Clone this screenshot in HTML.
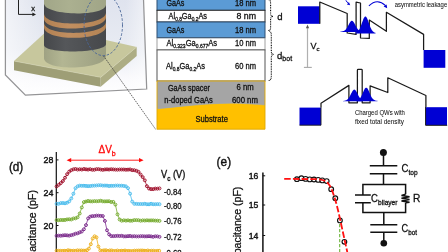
<!DOCTYPE html>
<html><head><meta charset="utf-8"><title>Figure</title>
<style>
html,body{margin:0;padding:0;background:#fff;}
body{width:448px;height:252px;overflow:hidden;position:relative;}
svg{position:absolute;left:0;top:0;display:block;font-family:"Liberation Sans",Arial,sans-serif;}
text{stroke:#111;stroke-width:0.28px;}
</style></head><body>
<svg width="448" height="252" viewBox="0 0 448 252">
<defs>
<linearGradient id="bg" x1="0" y1="0" x2="0" y2="1">
 <stop offset="0" stop-color="#dfe3ee"/><stop offset="0.55" stop-color="#e9ecf3"/><stop offset="0.85" stop-color="#fbfbfd"/><stop offset="1" stop-color="#ffffff"/>
</linearGradient>
<linearGradient id="bgh" x1="0" y1="0" x2="1" y2="0">
 <stop offset="0" stop-color="#ffffff" stop-opacity="0.55"/><stop offset="0.25" stop-color="#ffffff" stop-opacity="0"/><stop offset="0.85" stop-color="#ffffff" stop-opacity="0"/><stop offset="1" stop-color="#ffffff" stop-opacity="0.5"/>
</linearGradient>
<linearGradient id="dark" x1="0" y1="0" x2="1" y2="0">
 <stop offset="0" stop-color="#45474a"/><stop offset="0.35" stop-color="#55575a"/><stop offset="1" stop-color="#46484b"/>
</linearGradient>
<linearGradient id="lowg" x1="0" y1="0" x2="1" y2="0">
 <stop offset="0" stop-color="#9fa283"/><stop offset="0.3" stop-color="#b3b693"/><stop offset="1" stop-color="#9b9e80"/>
</linearGradient>
<linearGradient id="topg" x1="0" y1="0" x2="1" y2="0">
 <stop offset="0" stop-color="#a1a688"/><stop offset="0.4" stop-color="#abb090"/><stop offset="1" stop-color="#a0a587"/>
</linearGradient>
<linearGradient id="org" x1="0" y1="0" x2="1" y2="0">
 <stop offset="0" stop-color="#b08052"/><stop offset="0.4" stop-color="#c28f60"/><stop offset="1" stop-color="#b38354"/>
</linearGradient>
</defs>
<path d="M5.4,-1 L5.4,75 L25.4,95.2 L146.7,89 L143.5,-1 Z" fill="url(#bg)"/>
<path d="M5.4,-1 L5.4,75 L25.4,95.2 L146.7,89 L143.5,-1 Z" fill="url(#bgh)" stroke="#949496" stroke-width="1.25"/>
<path d="M14,61 L50.7,27.5 L136.7,47 L100.7,77.3 Z" fill="#c7c79d"/>
<path d="M14,61 L100.7,77.3 L100.7,86.7 L14,70.3 Z" fill="#9e9e76"/>
<path d="M100.7,77.3 L136.7,47 L136.7,56 L100.7,86.7 Z" fill="#adad84"/>
<path d="M14,61 L100.7,77.3 L136.7,47" fill="none" stroke="#d9d9b5" stroke-width="0.6"/>
<path d="M44.0,40 L44.0,58 C44,71.87 106,69.87 106,56 L106.0,40 Z" fill="url(#lowg)"/>
<path d="M44.0,-1 L44.0,45 C44,54.2 106,53.2 106,44 L106.0,-1 Z" fill="url(#dark)"/>
<path d="M44.0,13.6 C44,27.73 106,26.53 106,12.4 L106.0,17.0 C106,31.4 44,32.8 44,18.4 Z" fill="url(#org)"/>
<path d="M44.0,22.6 C44,37.13 106,36.13 106,21.6 L106.0,26.2 C106,41.13 44,41.93 44,27 Z" fill="url(#org)"/>
<path d="M44.0,-1 L44.0,3.3 C44,15.97 106,17.17 106,4.5 L106.0,-1 Z" fill="url(#topg)"/>
<ellipse cx="103.3" cy="25" rx="19.2" ry="30.6" fill="none" stroke="#4a6698" stroke-width="0.95" stroke-dasharray="2.5 1.7"/>
<path d="M103.6,56 L156,129.8" stroke="#3a3a3a" stroke-width="0.75" stroke-dasharray="1.6 0.9" fill="none"/>
<path d="M18.5,-1 V14.4 H33.5" stroke="#222" stroke-width="1" fill="none"/>
<path d="M36,14.4 L32.4,12.6 L32.4,16.2 Z" fill="#222"/>
<text x="31.2" y="11" font-size="7.5" fill="#222">x</text>
<rect x="157.0" y="-3" width="108" height="13.3" fill="#5b9bd5" stroke="#2d4f73" stroke-width="1"/>
<rect x="157.0" y="10.3" width="108" height="11.7" fill="#ffffff" stroke="#2a2a2a" stroke-width="1"/>
<rect x="157.0" y="22" width="108" height="15.7" fill="#5b9bd5" stroke="#2d4f73" stroke-width="1"/>
<rect x="157.0" y="37.7" width="108" height="12.2" fill="#ffffff" stroke="#a0a0a0" stroke-width="1"/>
<rect x="157.0" y="49.9" width="108" height="31.1" fill="#ffffff" stroke="#555" stroke-width="1"/>
<path d="M157.0,37.7 H265.0" stroke="#2d4f73" stroke-width="1"/>
<path d="M157.0,81 H265.0 V129 H157.0 Z" fill="#a5a5a5"/>
<path d="M157.0,108.8 C185,106 215,102.5 238,103.3 C252,103.8 260,104.6 265.0,105 V129.2 H157.0 Z" fill="#ffc000"/>
<path d="M157.0,108.8 C185,106 215,102.5 238,103.3 C252,103.8 260,104.6 265.0,105" fill="none" stroke="#8fa6d0" stroke-width="0.5"/>
<path d="M157.0,81 H265.0 V129.2 H157.0 Z" fill="none" stroke="#e0a800" stroke-width="0.9"/>
<g fill="#111">
<text x="166.4" y="5.8" font-size="8.2" textLength="17.9" lengthAdjust="spacingAndGlyphs">GaAs</text>
<text x="235" y="5.8" font-size="8.2" textLength="21" lengthAdjust="spacingAndGlyphs">18 nm</text>
<text x="168.6" y="19.3" font-size="8.2" textLength="38.4" lengthAdjust="spacingAndGlyphs">Al<tspan font-size="5.4" dy="1.8">0.8</tspan><tspan dy="-1.8">Ga</tspan><tspan font-size="5.4" dy="1.8">0.2</tspan><tspan dy="-1.8">As</tspan></text>
<text x="236.4" y="19.3" font-size="8.2" textLength="19.6" lengthAdjust="spacingAndGlyphs">8 nm</text>
<text x="166.4" y="33.1" font-size="8.2" textLength="17.9" lengthAdjust="spacingAndGlyphs">GaAs</text>
<text x="235" y="33.1" font-size="8.2" textLength="21" lengthAdjust="spacingAndGlyphs">18 nm</text>
<text x="166.4" y="45.7" font-size="8.2" textLength="50.7" lengthAdjust="spacingAndGlyphs">Al<tspan font-size="5.4" dy="1.8">0.323</tspan><tspan dy="-1.8">Ga</tspan><tspan font-size="5.4" dy="1.8">0.677</tspan><tspan dy="-1.8">As</tspan></text>
<text x="235" y="45.7" font-size="8.2" textLength="21" lengthAdjust="spacingAndGlyphs">10 nm</text>
<text x="166" y="69.3" font-size="8.2" textLength="39" lengthAdjust="spacingAndGlyphs">Al<tspan font-size="5.4" dy="1.8">0.8</tspan><tspan dy="-1.8">Ga</tspan><tspan font-size="5.4" dy="1.8">0.2</tspan><tspan dy="-1.8">As</tspan></text>
<text x="235" y="69.3" font-size="8.2" textLength="21" lengthAdjust="spacingAndGlyphs">60 nm</text>
<text x="167.9" y="90.6" font-size="8.2" textLength="42" lengthAdjust="spacingAndGlyphs">GaAs spacer</text>
<text x="236.5" y="90.4" font-size="8.2" textLength="17.2" lengthAdjust="spacingAndGlyphs">6 nm</text>
<text x="164.3" y="102.9" font-size="8.2" textLength="48.6" lengthAdjust="spacingAndGlyphs">n-doped GaAs</text>
<text x="232" y="102.8" font-size="8.2" textLength="25.9" lengthAdjust="spacingAndGlyphs">600 nm</text>
<text x="195.4" y="121.7" font-size="8.2" textLength="32.5" lengthAdjust="spacingAndGlyphs">Substrate</text>
</g>
<g fill="none" stroke="#000" stroke-width="1.05" stroke-dasharray="0.9 0.75">
<path d="M268.3,-0.5 Q270.6,0 270.6,3 L270.6,13 Q270.6,16.4 273,16.4 Q270.6,16.4 270.6,20 L270.6,27.5 Q270.6,30.4 268.3,30.6"/>
<path d="M269.3,31 Q271.3,31.5 271.3,35 L271.3,51 Q271.3,54.4 273.6,54.4 Q271.3,54.4 271.3,58 L271.3,76.5 Q271.3,80.3 268.3,80.6"/>
</g>
<text x="277.3" y="19.7" font-size="9.6" fill="#111">d</text>
<text x="277" y="58.7" font-size="9.6" fill="#111">d<tspan font-size="7" dy="1.9">bot</tspan></text>
<rect x="298" y="6.3" width="21.8" height="17.5" fill="#0000d4"/>
<rect x="423.6" y="50" width="21.7" height="17.8" fill="#0000d4"/>
<rect x="299.5" y="107.6" width="21.5" height="17.6" fill="#0000d4"/>
<path d="M299.5,125.2 H321 V107.4" fill="none" stroke="#1a1a1a" stroke-width="0.9"/>
<rect x="425.5" y="107.2" width="21.5" height="18" fill="#0000d4"/>
<path d="M425.6,107 V125.3 H447.2" fill="none" stroke="#1a1a1a" stroke-width="1"/>
<g fill="none" stroke="#1a1a1a" stroke-width="1.25" stroke-linejoin="round">
<path d="M319.8,23.8 L319.8,2 L347.2,13.5 L347.2,33 L356.1,34.4 L356.1,2.2 L360.5,3 L360.5,38 L369.3,38.4 L369.3,20 L386.4,31.3 L386.4,12.3 L423.6,34.4 L423.6,50"/>
<path d="M321,107.6 L321,103.3 L348.9,85.4 L348.9,102.8 L357.4,102.8 L357.4,70.2 Q357.4,69.4 358.2,69.4 L361.4,69.4 Q362.2,69.4 362.2,70.2 L362.2,102.8 L370.1,102.8 L370.1,85.8 L387.8,92.5 L387.8,77.8 L425.9,95.5 L425.9,107"/>
</g>
<path d="M340.5,31.9 L340.5,31.55 340.96,31.51 341.43,31.46 341.89,31.4 342.35,31.33 342.81,31.22 343.27,31.09 343.74,30.92 344.2,30.7 344.66,30.42 345.12,30.08 345.59,29.65 346.05,29.14 346.51,28.54 346.98,27.85 347.44,27.08 347.9,26.25 348.36,25.37 348.82,24.48 349.29,23.61 349.75,22.8 350.21,22.08 350.68,21.5 351.14,21.07 351.6,20.84 352.06,20.81 352.52,20.99 352.99,21.35 353.45,21.89 353.91,22.57 354.38,23.36 354.84,24.22 355.3,25.11 355.76,25.99 356.23,26.84 356.69,27.63 357.15,28.34 357.61,28.97 358.07,29.51 358.54,29.96 359,30.33 L359,31.9 Z" fill="#0000d4"/>
<path d="M355,33.6 L355,32.85 355.51,32.73 356.02,32.56 356.54,32.34 357.05,32.05 357.56,31.68 358.07,31.19 358.59,30.57 359.1,29.81 359.61,28.9 360.12,27.83 360.64,26.6 361.15,25.25 361.66,23.81 362.18,22.34 362.69,20.89 363.2,19.54 363.71,18.36 364.23,17.43 364.74,16.8 365.25,16.52 365.76,16.59 366.27,17.02 366.79,17.79 367.3,18.83 367.81,20.08 368.32,21.48 368.84,22.95 369.35,24.42 369.86,25.83 370.38,27.13 370.89,28.29 371.4,29.3 371.91,30.15 372.43,30.85 372.94,31.41 373.45,31.84 373.96,32.18 374.48,32.44 374.99,32.64 375.5,32.78 L375.5,33.6 Z" fill="#0000d4"/>
<path d="M343,101.3 L343,100.92 343.49,100.88 343.98,100.82 344.46,100.75 344.95,100.65 345.44,100.52 345.93,100.36 346.41,100.14 346.9,99.85 347.39,99.49 347.88,99.05 348.36,98.5 348.85,97.85 349.34,97.09 349.82,96.25 350.31,95.32 350.8,94.35 351.29,93.36 351.77,92.4 352.26,91.51 352.75,90.75 353.24,90.16 353.73,89.77 354.21,89.6 354.7,89.68 355.19,89.99 355.68,90.52 356.16,91.22 356.65,92.07 357.14,93.01 357.62,93.99 358.11,94.98 358.6,95.92 359.09,96.8 359.57,97.59 360.06,98.28 360.55,98.86 361.04,99.34 361.52,99.74 362.01,100.04 362.5,100.28 L362.5,101.3 Z" fill="#0000d4"/>
<path d="M356.5,101.3 L356.5,100.62 357.02,100.49 357.55,100.31 358.07,100.07 358.6,99.75 359.12,99.34 359.65,98.81 360.18,98.14 360.7,97.34 361.23,96.4 361.75,95.33 362.27,94.16 362.8,92.92 363.32,91.68 363.85,90.49 364.38,89.43 364.9,88.56 365.43,87.95 365.95,87.64 366.48,87.64 367,87.97 367.52,88.6 368.05,89.47 368.57,90.54 369.1,91.73 369.62,92.98 370.15,94.21 370.68,95.38 371.2,96.45 371.73,97.38 372.25,98.18 372.77,98.83 373.3,99.36 373.82,99.77 374.35,100.09 374.88,100.32 375.4,100.5 375.93,100.63 376.45,100.73 376.98,100.8 377.5,100.86 L377.5,101.3 Z" fill="#0000d4"/>
<path d="M307.5,67.4 V27" stroke="#b0b0b0" stroke-width="1.2" fill="none"/>
<path d="M307.5,24.6 L305.9,28.2 L309.1,28.2 Z" fill="#555"/>
<path d="M303.9,67.4 H311.8" stroke="#a8a8a8" stroke-width="1.1"/>
<text x="310.6" y="48.9" font-size="9" fill="#111">V<tspan font-size="6" dy="1.8">c</tspan></text>
<path d="M345.9,0.3 Q347.2,2.6 348.6,3.6" fill="none" stroke="#0000d4" stroke-width="1"/>
<path d="M350.2,5.2 L346.9,4.4 L348.9,2.1 Z" fill="#0000d4"/>
<path d="M368.9,5.8 Q377.2,-2.2 385.6,5.6" fill="none" stroke="#0000d4" stroke-width="1.1"/>
<path d="M387.2,8.3 L383.6,6.6 L386.6,4.4 Z" fill="#0000d4"/>
<text x="394.7" y="7.2" font-size="7.3" textLength="52.5" lengthAdjust="spacingAndGlyphs" fill="#111" style="stroke-width:0.05px">asymmetric leakage</text>
<text x="354.9" y="115" font-size="7.2" textLength="50" lengthAdjust="spacingAndGlyphs" fill="#111" style="stroke-width:0.05px">Charged QWs with</text>
<text x="354.9" y="123.6" font-size="7.2" textLength="49" lengthAdjust="spacingAndGlyphs" fill="#111" style="stroke-width:0.05px">fixed total density</text>
<text x="8.9" y="170.8" font-size="13" textLength="14.4" lengthAdjust="spacingAndGlyphs" fill="#111" style="stroke-width:0.4px">(d)</text>
<path d="M56.3,152 V253" stroke="#111" stroke-width="1.2"/>
<path d="M56.3,159.9 H58.5" stroke="#111" stroke-width="1"/>
<text x="53.4" y="163" font-size="8.8" text-anchor="end" fill="#111" style="stroke-width:0.4px">28</text>
<path d="M56.3,192.7 H58.5" stroke="#111" stroke-width="1"/>
<text x="53.4" y="195.8" font-size="8.8" text-anchor="end" fill="#111" style="stroke-width:0.4px">24</text>
<path d="M56.3,225.5 H58.5" stroke="#111" stroke-width="1"/>
<text x="53.4" y="228.6" font-size="8.8" text-anchor="end" fill="#111" style="stroke-width:0.4px">20</text>
<text transform="translate(35.6,190) rotate(-90)" x="0" y="0" font-size="10.6" text-anchor="end" fill="#111">Capacitance (pF)</text>
<text x="98.5" y="152.9" font-size="10" fill="#ff0a0a" style="stroke:#ff0a0a">ΔV<tspan font-size="7" dy="2.6">b</tspan></text>
<path d="M69.5,160.2 H141" stroke="#ff0a0a" stroke-width="0.9"/>
<path d="M66.6,160.2 L71.2,158.1 L71.2,162.3 Z" fill="#ff0a0a"/>
<path d="M143.6,160.2 L139,158.1 L139,162.3 Z" fill="#ff0a0a"/>
<path d="M56.6,186.44 L58.7,184.84 L60.8,183.1 L62.9,181 L65,177.75 L67.1,174.19 L69.2,171.61 L71.3,170.17 L73.4,169.31 L75.5,168.97 L77.6,169.56 L79.7,169.29 L81.8,169.54 L83.9,169.02 L86,169.35 L88.1,169.56 L90.2,169.23 L92.3,169.75 L94.4,169.74 L96.5,169.14 L98.6,169.16 L100.7,169.54 L102.8,169.83 L104.9,169.46 L107,169.37 L109.1,169.53 L111.2,169.28 L113.3,169.43 L115.4,169.61 L117.5,169.67 L119.6,169.5 L121.7,169.52 L123.8,169.53 L125.9,169.72 L128,169.62 L130.1,169.46 L132.2,170.16 L134.3,170.21 L136.4,170.8 L138.5,171.82 L140.6,174.54 L142.7,177.1 L144.8,180.32 L146.9,186.17 L149,188.56 L151.1,189.07 L153.2,189.14 L155.3,188.58 L157.4,188.69 L159.5,188.4" fill="none" stroke="#a2142f" stroke-width="0.8"/><g fill="none" stroke="#a2142f" stroke-width="1.0"><circle cx="56.6" cy="186.44" r="1.45"/><circle cx="58.7" cy="184.84" r="1.45"/><circle cx="60.8" cy="183.1" r="1.45"/><circle cx="62.9" cy="181" r="1.45"/><circle cx="65" cy="177.75" r="1.45"/><circle cx="67.1" cy="174.19" r="1.45"/><circle cx="69.2" cy="171.61" r="1.45"/><circle cx="71.3" cy="170.17" r="1.45"/><circle cx="73.4" cy="169.31" r="1.45"/><circle cx="75.5" cy="168.97" r="1.45"/><circle cx="77.6" cy="169.56" r="1.45"/><circle cx="79.7" cy="169.29" r="1.45"/><circle cx="81.8" cy="169.54" r="1.45"/><circle cx="83.9" cy="169.02" r="1.45"/><circle cx="86" cy="169.35" r="1.45"/><circle cx="88.1" cy="169.56" r="1.45"/><circle cx="90.2" cy="169.23" r="1.45"/><circle cx="92.3" cy="169.75" r="1.45"/><circle cx="94.4" cy="169.74" r="1.45"/><circle cx="96.5" cy="169.14" r="1.45"/><circle cx="98.6" cy="169.16" r="1.45"/><circle cx="100.7" cy="169.54" r="1.45"/><circle cx="102.8" cy="169.83" r="1.45"/><circle cx="104.9" cy="169.46" r="1.45"/><circle cx="107" cy="169.37" r="1.45"/><circle cx="109.1" cy="169.53" r="1.45"/><circle cx="111.2" cy="169.28" r="1.45"/><circle cx="113.3" cy="169.43" r="1.45"/><circle cx="115.4" cy="169.61" r="1.45"/><circle cx="117.5" cy="169.67" r="1.45"/><circle cx="119.6" cy="169.5" r="1.45"/><circle cx="121.7" cy="169.52" r="1.45"/><circle cx="123.8" cy="169.53" r="1.45"/><circle cx="125.9" cy="169.72" r="1.45"/><circle cx="128" cy="169.62" r="1.45"/><circle cx="130.1" cy="169.46" r="1.45"/><circle cx="132.2" cy="170.16" r="1.45"/><circle cx="134.3" cy="170.21" r="1.45"/><circle cx="136.4" cy="170.8" r="1.45"/><circle cx="138.5" cy="171.82" r="1.45"/><circle cx="140.6" cy="174.54" r="1.45"/><circle cx="142.7" cy="177.1" r="1.45"/><circle cx="144.8" cy="180.32" r="1.45"/><circle cx="146.9" cy="186.17" r="1.45"/><circle cx="149" cy="188.56" r="1.45"/><circle cx="151.1" cy="189.07" r="1.45"/><circle cx="153.2" cy="189.14" r="1.45"/><circle cx="155.3" cy="188.58" r="1.45"/><circle cx="157.4" cy="188.69" r="1.45"/><circle cx="159.5" cy="188.4" r="1.45"/></g>
<path d="M56.6,203.82 L58.7,203.76 L60.8,203.08 L62.9,203.04 L65,203.3 L67.1,202.71 L69.2,201.36 L71.3,198.42 L73.4,193.74 L75.5,188.17 L77.6,186.34 L79.7,185.64 L81.8,185.81 L83.9,185.75 L86,185.95 L88.1,186.11 L90.2,186.05 L92.3,185.74 L94.4,185.64 L96.5,185.49 L98.6,185.29 L100.7,185.28 L102.8,185.62 L104.9,185.55 L107,185.62 L109.1,186.01 L111.2,185.79 L113.3,185.84 L115.4,185.65 L117.5,185.53 L119.6,185.77 L121.7,185.67 L123.8,185.97 L125.9,186.34 L128,188.16 L130.1,193.68 L132.2,201.61 L134.3,203.82 L136.4,203.85 L138.5,204.04 L140.6,204 L142.7,204.06 L144.8,203.79 L146.9,204.27 L149,204.3 L151.1,203.78 L153.2,204.24 L155.3,204.25 L157.4,204.11 L159.5,204.2" fill="none" stroke="#4dbeee" stroke-width="0.8"/><g fill="none" stroke="#4dbeee" stroke-width="1.0"><circle cx="56.6" cy="203.82" r="1.45"/><circle cx="58.7" cy="203.76" r="1.45"/><circle cx="60.8" cy="203.08" r="1.45"/><circle cx="62.9" cy="203.04" r="1.45"/><circle cx="65" cy="203.3" r="1.45"/><circle cx="67.1" cy="202.71" r="1.45"/><circle cx="69.2" cy="201.36" r="1.45"/><circle cx="71.3" cy="198.42" r="1.45"/><circle cx="73.4" cy="193.74" r="1.45"/><circle cx="75.5" cy="188.17" r="1.45"/><circle cx="77.6" cy="186.34" r="1.45"/><circle cx="79.7" cy="185.64" r="1.45"/><circle cx="81.8" cy="185.81" r="1.45"/><circle cx="83.9" cy="185.75" r="1.45"/><circle cx="86" cy="185.95" r="1.45"/><circle cx="88.1" cy="186.11" r="1.45"/><circle cx="90.2" cy="186.05" r="1.45"/><circle cx="92.3" cy="185.74" r="1.45"/><circle cx="94.4" cy="185.64" r="1.45"/><circle cx="96.5" cy="185.49" r="1.45"/><circle cx="98.6" cy="185.29" r="1.45"/><circle cx="100.7" cy="185.28" r="1.45"/><circle cx="102.8" cy="185.62" r="1.45"/><circle cx="104.9" cy="185.55" r="1.45"/><circle cx="107" cy="185.62" r="1.45"/><circle cx="109.1" cy="186.01" r="1.45"/><circle cx="111.2" cy="185.79" r="1.45"/><circle cx="113.3" cy="185.84" r="1.45"/><circle cx="115.4" cy="185.65" r="1.45"/><circle cx="117.5" cy="185.53" r="1.45"/><circle cx="119.6" cy="185.77" r="1.45"/><circle cx="121.7" cy="185.67" r="1.45"/><circle cx="123.8" cy="185.97" r="1.45"/><circle cx="125.9" cy="186.34" r="1.45"/><circle cx="128" cy="188.16" r="1.45"/><circle cx="130.1" cy="193.68" r="1.45"/><circle cx="132.2" cy="201.61" r="1.45"/><circle cx="134.3" cy="203.82" r="1.45"/><circle cx="136.4" cy="203.85" r="1.45"/><circle cx="138.5" cy="204.04" r="1.45"/><circle cx="140.6" cy="204" r="1.45"/><circle cx="142.7" cy="204.06" r="1.45"/><circle cx="144.8" cy="203.79" r="1.45"/><circle cx="146.9" cy="204.27" r="1.45"/><circle cx="149" cy="204.3" r="1.45"/><circle cx="151.1" cy="203.78" r="1.45"/><circle cx="153.2" cy="204.24" r="1.45"/><circle cx="155.3" cy="204.25" r="1.45"/><circle cx="157.4" cy="204.11" r="1.45"/><circle cx="159.5" cy="204.2" r="1.45"/></g>
<path d="M56.6,220.12 L58.7,220.22 L60.8,219.99 L62.9,220.04 L65,219.95 L67.1,219.45 L69.2,219.3 L71.3,219.48 L73.4,218.49 L75.5,218.35 L77.6,217.29 L79.7,213.53 L81.8,207.44 L83.9,202.12 L86,201.53 L88.1,201.02 L90.2,201.31 L92.3,201.43 L94.4,201.14 L96.5,201.25 L98.6,201.15 L100.7,200.74 L102.8,201.37 L104.9,201.4 L107,201.34 L109.1,201.29 L111.2,202.02 L113.3,201.89 L115.4,204.6 L117.5,214.37 L119.6,219.5 L121.7,220.69 L123.8,220.33 L125.9,220.61 L128,220.36 L130.1,220.7 L132.2,220.67 L134.3,220.12 L136.4,220.15 L138.5,220.2 L140.6,220.73 L142.7,220.38 L144.8,220.54 L146.9,220.33 L149,220.49 L151.1,220.43 L153.2,220.43 L155.3,220.61 L157.4,220.63 L159.5,220.87" fill="none" stroke="#77ac30" stroke-width="0.8"/><g fill="none" stroke="#77ac30" stroke-width="1.0"><circle cx="56.6" cy="220.12" r="1.45"/><circle cx="58.7" cy="220.22" r="1.45"/><circle cx="60.8" cy="219.99" r="1.45"/><circle cx="62.9" cy="220.04" r="1.45"/><circle cx="65" cy="219.95" r="1.45"/><circle cx="67.1" cy="219.45" r="1.45"/><circle cx="69.2" cy="219.3" r="1.45"/><circle cx="71.3" cy="219.48" r="1.45"/><circle cx="73.4" cy="218.49" r="1.45"/><circle cx="75.5" cy="218.35" r="1.45"/><circle cx="77.6" cy="217.29" r="1.45"/><circle cx="79.7" cy="213.53" r="1.45"/><circle cx="81.8" cy="207.44" r="1.45"/><circle cx="83.9" cy="202.12" r="1.45"/><circle cx="86" cy="201.53" r="1.45"/><circle cx="88.1" cy="201.02" r="1.45"/><circle cx="90.2" cy="201.31" r="1.45"/><circle cx="92.3" cy="201.43" r="1.45"/><circle cx="94.4" cy="201.14" r="1.45"/><circle cx="96.5" cy="201.25" r="1.45"/><circle cx="98.6" cy="201.15" r="1.45"/><circle cx="100.7" cy="200.74" r="1.45"/><circle cx="102.8" cy="201.37" r="1.45"/><circle cx="104.9" cy="201.4" r="1.45"/><circle cx="107" cy="201.34" r="1.45"/><circle cx="109.1" cy="201.29" r="1.45"/><circle cx="111.2" cy="202.02" r="1.45"/><circle cx="113.3" cy="201.89" r="1.45"/><circle cx="115.4" cy="204.6" r="1.45"/><circle cx="117.5" cy="214.37" r="1.45"/><circle cx="119.6" cy="219.5" r="1.45"/><circle cx="121.7" cy="220.69" r="1.45"/><circle cx="123.8" cy="220.33" r="1.45"/><circle cx="125.9" cy="220.61" r="1.45"/><circle cx="128" cy="220.36" r="1.45"/><circle cx="130.1" cy="220.7" r="1.45"/><circle cx="132.2" cy="220.67" r="1.45"/><circle cx="134.3" cy="220.12" r="1.45"/><circle cx="136.4" cy="220.15" r="1.45"/><circle cx="138.5" cy="220.2" r="1.45"/><circle cx="140.6" cy="220.73" r="1.45"/><circle cx="142.7" cy="220.38" r="1.45"/><circle cx="144.8" cy="220.54" r="1.45"/><circle cx="146.9" cy="220.33" r="1.45"/><circle cx="149" cy="220.49" r="1.45"/><circle cx="151.1" cy="220.43" r="1.45"/><circle cx="153.2" cy="220.43" r="1.45"/><circle cx="155.3" cy="220.61" r="1.45"/><circle cx="157.4" cy="220.63" r="1.45"/><circle cx="159.5" cy="220.87" r="1.45"/></g>
<path d="M56.6,235.82 L58.7,235.61 L60.8,235.71 L62.9,235.43 L65,235.26 L67.1,235.38 L69.2,235.63 L71.3,235.17 L73.4,234.6 L75.5,233.67 L77.6,233.32 L79.7,232.37 L81.8,231.53 L83.9,229.25 L86,225.1 L88.1,218.41 L90.2,216.64 L92.3,216.1 L94.4,216.07 L96.5,215.62 L98.6,215.68 L100.7,215.91 L102.8,216.04 L104.9,220.92 L107,230.27 L109.1,234.36 L111.2,236.08 L113.3,236.14 L115.4,236.04 L117.5,235.82 L119.6,236.05 L121.7,235.79 L123.8,236.4 L125.9,236.36 L128,236.15 L130.1,235.99 L132.2,236.43 L134.3,236.21 L136.4,236.44 L138.5,236.43 L140.6,236.22 L142.7,236.22 L144.8,236.41 L146.9,236.35 L149,236.23 L151.1,236.39 L153.2,236.81 L155.3,236.33 L157.4,236.39 L159.5,236.86" fill="none" stroke="#7e2f8e" stroke-width="0.8"/><g fill="none" stroke="#7e2f8e" stroke-width="1.0"><circle cx="56.6" cy="235.82" r="1.45"/><circle cx="58.7" cy="235.61" r="1.45"/><circle cx="60.8" cy="235.71" r="1.45"/><circle cx="62.9" cy="235.43" r="1.45"/><circle cx="65" cy="235.26" r="1.45"/><circle cx="67.1" cy="235.38" r="1.45"/><circle cx="69.2" cy="235.63" r="1.45"/><circle cx="71.3" cy="235.17" r="1.45"/><circle cx="73.4" cy="234.6" r="1.45"/><circle cx="75.5" cy="233.67" r="1.45"/><circle cx="77.6" cy="233.32" r="1.45"/><circle cx="79.7" cy="232.37" r="1.45"/><circle cx="81.8" cy="231.53" r="1.45"/><circle cx="83.9" cy="229.25" r="1.45"/><circle cx="86" cy="225.1" r="1.45"/><circle cx="88.1" cy="218.41" r="1.45"/><circle cx="90.2" cy="216.64" r="1.45"/><circle cx="92.3" cy="216.1" r="1.45"/><circle cx="94.4" cy="216.07" r="1.45"/><circle cx="96.5" cy="215.62" r="1.45"/><circle cx="98.6" cy="215.68" r="1.45"/><circle cx="100.7" cy="215.91" r="1.45"/><circle cx="102.8" cy="216.04" r="1.45"/><circle cx="104.9" cy="220.92" r="1.45"/><circle cx="107" cy="230.27" r="1.45"/><circle cx="109.1" cy="234.36" r="1.45"/><circle cx="111.2" cy="236.08" r="1.45"/><circle cx="113.3" cy="236.14" r="1.45"/><circle cx="115.4" cy="236.04" r="1.45"/><circle cx="117.5" cy="235.82" r="1.45"/><circle cx="119.6" cy="236.05" r="1.45"/><circle cx="121.7" cy="235.79" r="1.45"/><circle cx="123.8" cy="236.4" r="1.45"/><circle cx="125.9" cy="236.36" r="1.45"/><circle cx="128" cy="236.15" r="1.45"/><circle cx="130.1" cy="235.99" r="1.45"/><circle cx="132.2" cy="236.43" r="1.45"/><circle cx="134.3" cy="236.21" r="1.45"/><circle cx="136.4" cy="236.44" r="1.45"/><circle cx="138.5" cy="236.43" r="1.45"/><circle cx="140.6" cy="236.22" r="1.45"/><circle cx="142.7" cy="236.22" r="1.45"/><circle cx="144.8" cy="236.41" r="1.45"/><circle cx="146.9" cy="236.35" r="1.45"/><circle cx="149" cy="236.23" r="1.45"/><circle cx="151.1" cy="236.39" r="1.45"/><circle cx="153.2" cy="236.81" r="1.45"/><circle cx="155.3" cy="236.33" r="1.45"/><circle cx="157.4" cy="236.39" r="1.45"/><circle cx="159.5" cy="236.86" r="1.45"/></g>
<path d="M56.6,250.69 L58.5,250.77 L60.4,250.81 L62.3,250.91 L64.2,250.77 L66.1,250.9 L68,250.27 L69.9,250.58 L71.8,250.91 L73.7,250.7 L75.6,250.88 L77.5,250.33 L79.4,250.58 L81.3,250.42 L83.2,250.63 L85.1,250.65 L87,250.26 L88.9,248.6 L90.8,244.22 L92.7,238.51 L94.6,236.28 L96.5,237.36 L98.4,246.59 L100.3,250.35 L102.2,250.7 L104.1,250.36 L106,250.28 L107.9,250.9 L109.8,250.45 L111.7,250.46 L113.6,251.01 L115.5,250.94 L117.4,250.54 L119.3,251.02 L121.2,250.73 L123.1,250.84 L125,250.52 L126.9,251.04 L128.8,250.88 L130.7,251.08 L132.6,251.04 L134.5,250.63 L136.4,250.68 L138.3,250.56 L140.2,250.55 L142.1,250.51 L144,250.68 L145.9,250.9 L147.8,250.49 L149.7,250.97 L151.6,250.74 L153.5,250.73 L155.4,251.1 L157.3,250.87 L159.2,250.77" fill="none" stroke="#edb120" stroke-width="0.8"/><g fill="none" stroke="#edb120" stroke-width="1.0"><circle cx="56.6" cy="250.69" r="1.45"/><circle cx="58.5" cy="250.77" r="1.45"/><circle cx="60.4" cy="250.81" r="1.45"/><circle cx="62.3" cy="250.91" r="1.45"/><circle cx="64.2" cy="250.77" r="1.45"/><circle cx="66.1" cy="250.9" r="1.45"/><circle cx="68" cy="250.27" r="1.45"/><circle cx="69.9" cy="250.58" r="1.45"/><circle cx="71.8" cy="250.91" r="1.45"/><circle cx="73.7" cy="250.7" r="1.45"/><circle cx="75.6" cy="250.88" r="1.45"/><circle cx="77.5" cy="250.33" r="1.45"/><circle cx="79.4" cy="250.58" r="1.45"/><circle cx="81.3" cy="250.42" r="1.45"/><circle cx="83.2" cy="250.63" r="1.45"/><circle cx="85.1" cy="250.65" r="1.45"/><circle cx="87" cy="250.26" r="1.45"/><circle cx="88.9" cy="248.6" r="1.45"/><circle cx="90.8" cy="244.22" r="1.45"/><circle cx="92.7" cy="238.51" r="1.45"/><circle cx="94.6" cy="236.28" r="1.45"/><circle cx="96.5" cy="237.36" r="1.45"/><circle cx="98.4" cy="246.59" r="1.45"/><circle cx="100.3" cy="250.35" r="1.45"/><circle cx="102.2" cy="250.7" r="1.45"/><circle cx="104.1" cy="250.36" r="1.45"/><circle cx="106" cy="250.28" r="1.45"/><circle cx="107.9" cy="250.9" r="1.45"/><circle cx="109.8" cy="250.45" r="1.45"/><circle cx="111.7" cy="250.46" r="1.45"/><circle cx="113.6" cy="251.01" r="1.45"/><circle cx="115.5" cy="250.94" r="1.45"/><circle cx="117.4" cy="250.54" r="1.45"/><circle cx="119.3" cy="251.02" r="1.45"/><circle cx="121.2" cy="250.73" r="1.45"/><circle cx="123.1" cy="250.84" r="1.45"/><circle cx="125" cy="250.52" r="1.45"/><circle cx="126.9" cy="251.04" r="1.45"/><circle cx="128.8" cy="250.88" r="1.45"/><circle cx="130.7" cy="251.08" r="1.45"/><circle cx="132.6" cy="251.04" r="1.45"/><circle cx="134.5" cy="250.63" r="1.45"/><circle cx="136.4" cy="250.68" r="1.45"/><circle cx="138.3" cy="250.56" r="1.45"/><circle cx="140.2" cy="250.55" r="1.45"/><circle cx="142.1" cy="250.51" r="1.45"/><circle cx="144" cy="250.68" r="1.45"/><circle cx="145.9" cy="250.9" r="1.45"/><circle cx="147.8" cy="250.49" r="1.45"/><circle cx="149.7" cy="250.97" r="1.45"/><circle cx="151.6" cy="250.74" r="1.45"/><circle cx="153.5" cy="250.73" r="1.45"/><circle cx="155.4" cy="251.1" r="1.45"/><circle cx="157.3" cy="250.87" r="1.45"/><circle cx="159.2" cy="250.77" r="1.45"/></g>
<text x="161" y="178.4" font-size="10.6" textLength="24.3" lengthAdjust="spacingAndGlyphs" fill="#111" style="stroke-width:0.35px">V<tspan font-size="7.4" dy="2.2">c</tspan><tspan dy="-2.2"> (V)</tspan></text>
<text x="163.9" y="194.7" font-size="8.6" textLength="17.8" lengthAdjust="spacingAndGlyphs" fill="#111">-0.84</text>
<text x="163.9" y="208.8" font-size="8.6" textLength="17.8" lengthAdjust="spacingAndGlyphs" fill="#111">-0.80</text>
<text x="163.9" y="223.8" font-size="8.6" textLength="17.8" lengthAdjust="spacingAndGlyphs" fill="#111">-0.76</text>
<text x="163.9" y="240" font-size="8.6" textLength="17.8" lengthAdjust="spacingAndGlyphs" fill="#111">-0.72</text>
<text x="163.9" y="255.5" font-size="8.6" textLength="17.8" lengthAdjust="spacingAndGlyphs" fill="#111">-0.68</text>
<text x="216.6" y="165.6" font-size="13" textLength="14.5" lengthAdjust="spacingAndGlyphs" fill="#111" style="stroke-width:0.4px">(e)</text>
<path d="M262.9,172.6 V253" stroke="#111" stroke-width="1.5"/>
<path d="M262.9,175.8 H265.2" stroke="#111" stroke-width="1"/>
<text x="258.3" y="178.8" font-size="8.6" text-anchor="end" fill="#111" style="stroke-width:0.4px">16</text>
<path d="M262.9,205 H265.2" stroke="#111" stroke-width="1"/>
<text x="258.3" y="208" font-size="8.6" text-anchor="end" fill="#111" style="stroke-width:0.4px">15</text>
<path d="M262.9,235.5 H265.2" stroke="#111" stroke-width="1"/>
<text x="258.3" y="238.5" font-size="8.6" text-anchor="end" fill="#111" style="stroke-width:0.4px">14</text>
<text transform="translate(240.9,186.6) rotate(-90)" x="0" y="0" font-size="10.6" text-anchor="end" fill="#111">Capacitance (pF)</text>
<path d="M339.7,219 V253" stroke="#6cb33a" stroke-width="1.1" stroke-dasharray="3.2 1.8"/>
<g fill="#fff" stroke="#111" stroke-width="1.15"><circle cx="296.9" cy="179.2" r="2.35"/><circle cx="301.4" cy="178.2" r="2.35"/><circle cx="305.6" cy="178.9" r="2.35"/><circle cx="309.8" cy="179.4" r="2.35"/><circle cx="314" cy="179.5" r="2.35"/><circle cx="318.2" cy="179.9" r="2.35"/><circle cx="322.3" cy="180.4" r="2.35"/><circle cx="326.7" cy="181.1" r="2.35"/><circle cx="331.2" cy="189.2" r="2.35"/><circle cx="335.3" cy="198.2" r="2.35"/><circle cx="339.9" cy="220.4" r="2.35"/><circle cx="344.4" cy="241.8" r="2.35"/></g>
<path d="M284.2,178.8 L318,179.2 C324,179.6 327,181 330,186 C334,194 337,205 340,219 L347.5,253" fill="none" stroke="#ff1010" stroke-width="1.8" stroke-dasharray="6.5 2.2"/>
<g stroke="#111" stroke-width="1.5" fill="none">
<path d="M383.5,152.5 V165.8 M369.8,165.8 H397.3 M369.8,173.8 H397.3 M383.5,173.8 V184.4"/>
<path d="M362.9,194.9 V184.4 H405.6 V194.3 M362.9,202.8 V212.5 H405.6 V202.8"/>
<path d="M355,194.9 H370.8 M355,202.8 H370.8"/>
<path d="M405.6,194.3 L401.5,195.4 L409.5,196.8 L401.5,198.2 L409.5,199.6 L401.5,201 L409.5,202.2 L405.6,202.8"/>
<path d="M383.8,212.5 V224.8 M370.3,224.8 H397.3 M370.3,232.2 H397.3 M383.8,232.2 V243"/>
</g>
<circle cx="383.4" cy="152.5" r="3.5" fill="#111"/>
<circle cx="383.8" cy="243.3" r="3.3" fill="#111"/>
<text x="401.6" y="172.4" font-size="10" textLength="16" lengthAdjust="spacingAndGlyphs" fill="#111">C<tspan font-size="6.9" dy="2.7">top</tspan></text>
<text x="371.1" y="202.3" font-size="10" textLength="26.4" lengthAdjust="spacingAndGlyphs" fill="#111">C<tspan font-size="6.9" dy="2.7">bilayer</tspan></text>
<text x="412.9" y="201.8" font-size="10.2" fill="#111">R</text>
<text x="401.6" y="232" font-size="10" textLength="15.4" lengthAdjust="spacingAndGlyphs" fill="#111">C<tspan font-size="6.9" dy="2.7">bot</tspan></text>
</svg>
</body></html>
